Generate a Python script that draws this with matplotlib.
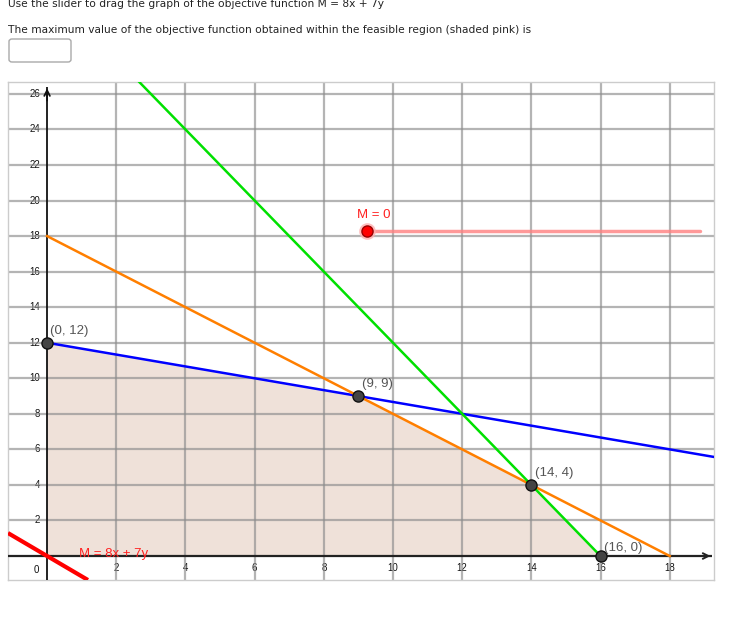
import matplotlib
matplotlib.use("Agg")
import matplotlib.pyplot as plt
from matplotlib.patches import FancyBboxPatch, Polygon
import numpy as np

# Data
vertices_x = [0, 0, 9, 14, 16]
vertices_y = [0, 12, 9, 4, 0]
corner_x = [0, 9, 14, 16]
corner_y = [12, 9, 4, 0]
corner_labels = ["(0, 12)", "(9, 9)", "(14, 4)", "(16, 0)"]
blue_coef = (1, 3, 36)     # x + 3y = 36
orange_coef = (1, 1, 18)   # x + y = 18
green_coef = (2, 1, 32)    # 2x + y = 32
objective = (8, 7)         # M = 8x + 7y
M_value = 0
x_ticks = [2, 4, 6, 8, 10, 12, 14, 16, 18]
y_ticks = [2, 4, 6, 8, 10, 12, 14, 16, 18, 20, 22, 24, 26]
slider_x = [9.25, 18.87]
slider_y = 18.29

xmin, xmax = -1.13, 19.28
ymin, ymax = -1.35, 26.67

GF = "Liberation Sans"

fig = plt.figure(figsize=(7.56, 6.27), dpi=100)

# header text
fig.text(8/756, 1 - 7/627, "Use the slider to drag the graph of the objective function M = 8x + 7y",
         fontsize=7.7, color="#222", va="baseline", ha="left")
fig.text(8/756, 1 - 33/627, "The maximum value of the objective function obtained within the feasible region (shaded pink) is",
         fontsize=7.7, color="#222", va="baseline", ha="left")
box = FancyBboxPatch((9/756, 1 - 62/627), 62/756, 23/627,
                     boxstyle="round,pad=0,rounding_size=0.004",
                     transform=fig.transFigure, fc="white", ec="#a9a9a9", lw=1)
fig.patches.append(box)

ax = fig.add_axes([8/756, 1 - 580/627, (714 - 8)/756, (580 - 82)/627])
ax.set_xlim(xmin, xmax)
ax.set_ylim(ymin, ymax)
ax.set_xticks([])
ax.set_yticks([])
for s in ax.spines.values():
    s.set_color("#cccccc")
    s.set_linewidth(1)

# feasible region
ax.add_patch(Polygon(list(zip(vertices_x, vertices_y)), closed=True,
                     fc="#efe1d9", ec="none", zorder=0.5))

# grid
for gx in x_ticks:
    ax.axvline(gx, color="#8c8c8c", lw=1.6, alpha=0.65, zorder=1)
for gy in y_ticks:
    ax.axhline(gy, color="#8c8c8c", lw=1.6, alpha=0.65, zorder=1)

# tick labels
for gx in x_ticks:
    ax.text(gx, -0.68, str(gx), fontsize=7, family=GF, ha="center", va="center", color="#111", zorder=0.9)
for gy in y_ticks:
    ax.text(-0.2, gy, str(gy), fontsize=7, family=GF, ha="right", va="center", color="#111", zorder=0.9)
ax.text(-0.32, -0.8, "0", fontsize=7, family=GF, ha="center", va="center", color="#111", zorder=0.9)

# axes with arrows
ax.plot([xmin, xmax - 0.05], [0, 0], color="#222", lw=1.6, zorder=3, solid_capstyle="butt")
ax.plot([0, 0], [ymin, ymax - 0.3], color="#111", lw=1.3, zorder=3, solid_capstyle="butt")
ax.annotate("", xy=(xmax - 0.02, 0), xytext=(xmax - 0.6, 0),
            arrowprops=dict(arrowstyle="->", color="#222", lw=1.4, mutation_scale=10), zorder=3)
ax.annotate("", xy=(0, ymax - 0.2), xytext=(0, ymax - 1.2),
            arrowprops=dict(arrowstyle="->", color="#111", lw=1.3, mutation_scale=10), zorder=3)

# constraint lines
xs = np.array([0, xmax])
a, b, c = blue_coef
ax.plot(xs, (c - a * xs) / b, color="#0000ff", lw=1.8, zorder=4)
a, b, c = orange_coef
xo = np.array([0, c / a])
ax.plot(xo, (c - a * xo) / b, color="#ff7f00", lw=1.8, zorder=4)
a, b, c = green_coef
xg = np.array([(c - ymax * b) / a, c / a])
ax.plot(xg, (c - a * xg) / b, color="#00e000", lw=1.8, zorder=4)

# objective line
p, q = objective
xr = np.array([xmin, -ymin * q / p])
ax.plot(xr, (M_value - p * xr) / q, color="#ff0000", lw=3, zorder=4, solid_capstyle="butt")
ax.text(0.92, -0.05, "M = 8x + 7y", color="#ff2020", fontsize=9.5, family=GF,
        ha="left", va="baseline", zorder=5)

# corner points
ax.plot(corner_x, corner_y, "o", ms=8, mfc="#444444", mec="#111111", mew=1, zorder=6)
offsets = [(0.08, 0.33), (0.1, 0.33), (0.1, 0.33), (0.1, 0.13)]
for cx, cy, lab, (dx, dy) in zip(corner_x, corner_y, corner_labels, offsets):
    ax.text(cx + dx, cy + dy, lab, fontsize=9.5, family=GF, color="#555555",
            ha="left", va="bottom", zorder=6)

# slider
ax.plot(slider_x, [slider_y, slider_y], color="#ff8080", lw=2.5, alpha=0.8, zorder=5, solid_capstyle="round")
ax.plot([slider_x[0]], [slider_y], "o", ms=12, mfc="#ffb0b0", mec="none", alpha=0.8, zorder=6)
ax.plot([slider_x[0]], [slider_y], "o", ms=8, mfc="#ff0000", mec="#990000", mew=1, zorder=7)
ax.text(slider_x[0] + 0.2, slider_y + 0.75, f"M = {M_value}", color="#ff2020", fontsize=9.5, family=GF,
        ha="center", va="baseline", zorder=7)

fig.savefig("out.png", dpi=100)
